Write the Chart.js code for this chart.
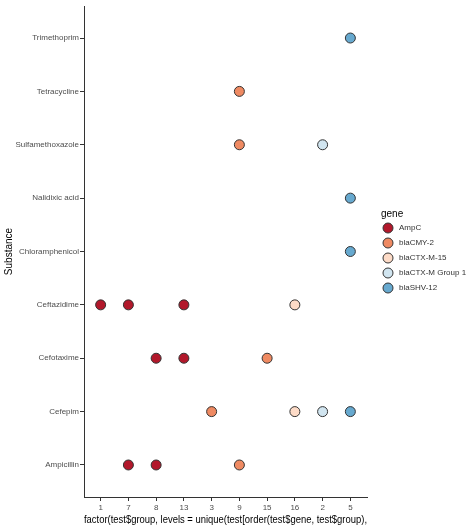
<!DOCTYPE html>
<html>
<head>
<meta charset="utf-8">
<script src="https://cdn.jsdelivr.net/npm/chart.js@4.4.1/dist/chart.umd.min.js"></script>
<style>
  html, body { margin: 0; padding: 0; background: #fff; }
  #wrap { width: 474px; height: 527px; }
</style>
</head>
<body>
<div id="wrap"><canvas id="chart-canvas" width="474" height="527"></canvas></div>
<script>
// x categories (factor levels, in plotted order)
const groups = ['1', '7', '8', '13', '3', '9', '15', '16', '2', '5'];
// y categories, bottom to top
const substances = ['Ampicillin', 'Cefepim', 'Cefotaxime', 'Ceftazidime', 'Chloramphenicol', 'Nalidixic acid', 'Sulfamethoxazole', 'Tetracycline', 'Trimethoprim'];
const genes = ['AmpC', 'blaCMY-2', 'blaCTX-M-15', 'blaCTX-M Group 1', 'blaSHV-12'];
const geneColors = ['#B2182B', '#EF8A62', '#FDDBC7', '#D1E5F0', '#67A9CF'];

// one entry per point
const pointGene  = ['AmpC', 'AmpC', 'AmpC', 'AmpC', 'AmpC', 'AmpC', 'AmpC',
                    'blaCMY-2', 'blaCMY-2', 'blaCMY-2', 'blaCMY-2', 'blaCMY-2',
                    'blaCTX-M-15', 'blaCTX-M-15',
                    'blaCTX-M Group 1', 'blaCTX-M Group 1',
                    'blaSHV-12', 'blaSHV-12', 'blaSHV-12', 'blaSHV-12'];
const pointGroup = ['1', '7', '13', '8', '13', '7', '8',
                    '3', '9', '15', '9', '9',
                    '16', '16',
                    '2', '2',
                    '5', '5', '5', '5'];
const pointSubstance = ['Ceftazidime', 'Ceftazidime', 'Ceftazidime', 'Cefotaxime', 'Cefotaxime', 'Ampicillin', 'Ampicillin',
                        'Cefepim', 'Ampicillin', 'Cefotaxime', 'Sulfamethoxazole', 'Tetracycline',
                        'Ceftazidime', 'Cefepim',
                        'Cefepim', 'Sulfamethoxazole',
                        'Cefepim', 'Chloramphenicol', 'Nalidixic acid', 'Trimethoprim'];

const FONT = 'Liberation Sans, Arial, sans-serif';
const AXIS = '#333333';

const datasets = genes.map((g, gi) => {
    const pts = [];
    pointGene.forEach((pg, i) => {
        if (pg === g) pts.push({ x: groups.indexOf(pointGroup[i]), y: substances.indexOf(pointSubstance[i]) });
    });
    return { label: g, data: pts, backgroundColor: geneColors[gi], borderColor: AXIS, borderWidth: 1, pointRadius: 5, pointHoverRadius: 5 };
});

// ggplot-style legend on the right
const geneLegend = {
    id: 'geneLegend',
    afterDraw(chart) {
        const ctx = chart.ctx;
        ctx.save();
        ctx.textBaseline = 'middle';
        ctx.textAlign = 'left';
        ctx.fillStyle = '#000';
        ctx.font = '10px ' + FONT;
        ctx.fillText('gene', 381, 214);
        genes.forEach((g, i) => {
            const y = 228 + i * 15;
            ctx.beginPath();
            ctx.arc(388, y, 5, 0, Math.PI * 2);
            ctx.fillStyle = geneColors[i];
            ctx.fill();
            ctx.lineWidth = 1;
            ctx.strokeStyle = AXIS;
            ctx.stroke();
            ctx.fillStyle = '#333';
            ctx.font = '8px ' + FONT;
            ctx.fillText(g, 399, y);
        });
        ctx.restore();
    }
};

const idx = arr => arr.map((_, i) => ({ value: i }));

window.theChart = new Chart(document.getElementById('chart-canvas').getContext('2d'), {
    type: 'scatter',
    data: { datasets: datasets },
    options: {
        responsive: false,
        animation: false,
        devicePixelRatio: 1,
        layout: { padding: { top: 4, right: 107, left: 0, bottom: 0 } },
        plugins: { legend: { display: false }, tooltip: { enabled: false } },
        scales: {
            x: {
                type: 'linear',
                min: -0.6, max: groups.length - 0.4,
                afterBuildTicks: s => { s.ticks = idx(groups); },
                afterFit: s => { s.height = 30; },
                ticks: { callback: v => groups[v], color: '#4d4d4d', font: { size: 8, family: FONT }, padding: 2, maxRotation: 0, autoSkip: false },
                grid: { drawOnChartArea: false, drawTicks: true, tickLength: 4, color: AXIS },
                border: { display: true, color: AXIS, width: 1 },
                title: { display: true, text: 'factor(test$group, levels = unique(test[order(test$gene, test$group),', color: '#000', font: { size: 10, family: FONT }, padding: { top: 0, bottom: 1 } }
            },
            y: {
                type: 'linear',
                min: -0.6, max: substances.length - 0.4,
                afterBuildTicks: s => { s.ticks = idx(substances); },
                afterFit: s => { s.width = 84; },
                ticks: { callback: v => substances[v], color: '#4d4d4d', font: { size: 8, family: FONT }, padding: 1, autoSkip: false },
                grid: { drawOnChartArea: false, drawTicks: true, tickLength: 4, color: AXIS },
                border: { display: true, color: AXIS, width: 1 },
                title: { display: true, text: 'Substance', color: '#000', font: { size: 10, family: FONT }, padding: { top: 3, bottom: 0 } }
            }
        }
    },
    plugins: [geneLegend]
});
</script>
</body>
</html>
